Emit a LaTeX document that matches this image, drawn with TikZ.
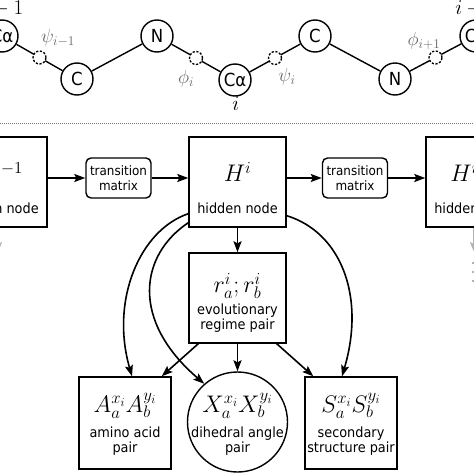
\RequirePackage{fix-cm}
\documentclass[tikz,border=0pt]{standalone}
\usepackage{fontspec}
\setsansfont{DejaVu Sans}[FakeStretch=0.92]
\usetikzlibrary{arrows.meta,calc}
\begin{document}
\begin{tikzpicture}[x=1pt,y=-1pt,
  atom/.style={circle, draw, line width=1.4pt, minimum size=32pt, inner sep=0pt, fill=white, font=\sffamily\fontsize{18}{18}\selectfont},
  dihed/.style={circle, draw, dashed, dash pattern=on 2.2pt off 1.6pt, line width=1.3pt, minimum size=13pt, inner sep=0pt, fill=white},
  bond/.style={line width=1.4pt},
  hbox/.style={draw, line width=1.4pt, minimum width=97pt, minimum height=90pt},
  tbox/.style={draw, rounded corners=5pt, line width=1.4pt, minimum width=65pt, minimum height=40pt, align=center, inner sep=0pt, font=\sffamily\fontsize{13}{14.5}\selectfont},
  obox/.style={draw, line width=1.4pt, minimum width=92pt, minimum height=92pt},
  ocirc/.style={draw, circle, line width=1.4pt, minimum size=100pt, inner sep=0pt},
  lab/.style={align=center, inner sep=0pt, font=\sffamily\fontsize{14}{15.5}\selectfont},
  mlab/.style={inner sep=0pt, font=\fontsize{24}{26}\selectfont},
  glab/.style={inner sep=0pt, text=black!60, font=\fontsize{19}{19}\selectfont},
  ilab/.style={inner sep=0pt, font=\fontsize{21}{21}\selectfont},
  arr/.style={-{Stealth[length=11pt,width=8pt,inset=2pt]}, line width=1.6pt},
  garr/.style={-{Stealth[length=9pt,width=7pt,inset=2pt]}, line width=1.5pt, draw=black!30},
  gdots/.style={line width=1.5pt, draw=black!30, dash pattern=on 2pt off 7pt},
]
\useasboundingbox (0,0) rectangle (474,474);

% ---- backbone chain ----
\node[atom] (ca0) at (2,36) {Cα};
\node[atom] (c0) at (77,79) {C};
\node[atom] (n1) at (157,36) {N};
\node[atom] (ca1) at (235,80) {Cα};
\node[atom] (c1) at (315,36) {C};
\node[atom] (n2) at (395,79) {N};
\node[atom] (ca2) at (476,36) {Cα};
\draw[bond] (ca0) -- (c0) -- (n1) -- (ca1) -- (c1) -- (n2) -- (ca2);
\node[dihed] (psi0) at ($(ca0)!0.5!(c0)$) {};
\node[dihed] (phi1) at ($(n1)!0.5!(ca1)$) {};
\node[dihed] (psi1) at ($(ca1)!0.5!(c1)$) {};
\node[dihed] (phi2) at ($(n2)!0.5!(ca2)$) {};
\node[glab] (lpsi0) at (58,38) {$\psi_{i-1}$};
\node[glab] (lphi1) at (186,79) {$\phi_{i}$};
\node[glab] (lpsi1) at (287,77) {$\psi_{i}$};
\node[glab] (lphi2) at (424,41) {$\phi_{i+1}$};
\node[ilab] (li0) at (2,8) {$i-1$};
\node[ilab] (li1) at (236,104) {$i$};
\node[ilab] (li2) at (476,8) {$i+1$};

% ---- separator ----
\coordinate (sepL) at (0,123);
\coordinate (sepR) at (474,123);
\draw[black!55, line width=0.9pt, dash pattern=on 0.9pt off 1.1pt] (sepL) -- (sepR);

% ---- hidden nodes ----
\node[hbox] (Hl) at (-1.5,182) {};
\node[hbox] (Hi) at (237.5,182) {};
\node[hbox] (Hr) at (474.5,182) {};
\node[mlab] (Hlm) at (-1.5,172) {$H^{i-1}$};
\node[mlab] (Him) at (237.5,172) {$H^{i}$};
\node[mlab] (Hrm) at (474.5,172) {$H^{i+1}$};
\node[lab] (Hlt) at (-1.5,208) {hidden node};
\node[lab] (Hit) at (237.5,208) {hidden node};
\node[lab] (Hrt) at (474.5,208) {hidden node};

\node[tbox] (T1) at (118.5,178) {transition\\matrix};
\node[tbox] (T2) at (355,178) {transition\\matrix};
\draw[arr] (T1.west -| Hl.east) -- (T1.west);
\draw[arr] (T1.east) -- (T1.east -| Hi.west);
\draw[arr] (T2.west -| Hi.east) -- (T2.west);
\draw[arr] (T2.east) -- (T2.east -| Hr.west);

% ---- faded side arrows ----
\coordinate (glEnd) at (-1.5,251);
\coordinate (grEnd) at (473.5,251);
\coordinate (gl1) at (-1.5,262);
\coordinate (gl2) at (-1.5,286);
\coordinate (gr1) at (473,262);
\coordinate (gr2) at (473,286);
\draw[garr] (Hl.south) -- (glEnd);
\draw[garr] (Hr.south -| grEnd) -- (grEnd);
\draw[gdots] (gl1) -- (gl2);
\draw[gdots] (gr1) -- (gr2);

% ---- regime pair ----
\node[hbox] (R) at (237.5,298) {};
\node[mlab] (Rm) at (237.5,286) {$r_a^i; r_b^i$};
\node[lab] (Rt) at (237.5,318) {evolutionary\\regime pair};

% ---- observations ----
\node[obox] (A) at (125,423) {};
\node[ocirc] (X) at (237.5,422) {};
\node[obox] (S) at (351,423) {};
\node[mlab] (Am) at (125,406) {$A_a^{x_i}A_b^{y_i}$};
\node[mlab] (Xm) at (237.5,406) {$X_a^{x_i}X_b^{y_i}$};
\node[mlab] (Sm) at (351,406) {$S_a^{x_i}S_b^{y_i}$};
\node[lab] (At) at (125,441) {amino acid\\pair};
\node[lab] (Xt) at (237.5,441) {dihedral angle\\pair};
\node[lab] (St) at (351,441) {secondary\\structure pair};

% ---- arrows ----
\draw[arr] (Hi.south) -- (R.north);
\draw[arr] (R.south) -- (X.north);
\draw[arr] ([xshift=10pt]R.south west) -- ([xshift=-10pt]A.north east);
\draw[arr] ([xshift=-10pt]R.south east) -- ([xshift=9pt]S.north west);
\draw[arr] ([yshift=14pt]Hi.south west) .. controls (140,230) and (110,300) .. ([xshift=7pt]A.north);
\draw[arr] ([yshift=5pt]Hi.south west) .. controls (140,255) and (130,320) .. (X.131);
\draw[arr] ([yshift=12pt]Hi.south east) .. controls (340,232) and (366,295) .. ([xshift=-9pt]S.north);
\end{tikzpicture}
\end{document}
